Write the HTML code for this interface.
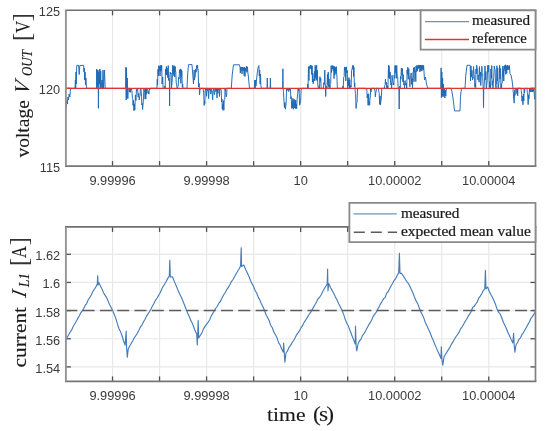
<!DOCTYPE html>
<html><head><meta charset="utf-8"><style>
html,body{margin:0;padding:0;background:#fff;width:550px;height:431px;overflow:hidden}
svg{display:block}
</style></head><body>
<svg width="550" height="431" viewBox="0 0 550 431">
<line x1="112.53" y1="10.3" x2="112.53" y2="166.1" stroke="#e8e8e8" stroke-width="1.2"/>
<line x1="112.53" y1="226.9" x2="112.53" y2="381.4" stroke="#e8e8e8" stroke-width="1.2"/>
<line x1="159.56" y1="10.3" x2="159.56" y2="166.1" stroke="#e8e8e8" stroke-width="1.2"/>
<line x1="159.56" y1="226.9" x2="159.56" y2="381.4" stroke="#e8e8e8" stroke-width="1.2"/>
<line x1="206.59" y1="10.3" x2="206.59" y2="166.1" stroke="#e8e8e8" stroke-width="1.2"/>
<line x1="206.59" y1="226.9" x2="206.59" y2="381.4" stroke="#e8e8e8" stroke-width="1.2"/>
<line x1="253.62" y1="10.3" x2="253.62" y2="166.1" stroke="#e8e8e8" stroke-width="1.2"/>
<line x1="253.62" y1="226.9" x2="253.62" y2="381.4" stroke="#e8e8e8" stroke-width="1.2"/>
<line x1="300.65" y1="10.3" x2="300.65" y2="166.1" stroke="#e8e8e8" stroke-width="1.2"/>
<line x1="300.65" y1="226.9" x2="300.65" y2="381.4" stroke="#e8e8e8" stroke-width="1.2"/>
<line x1="347.68" y1="10.3" x2="347.68" y2="166.1" stroke="#e8e8e8" stroke-width="1.2"/>
<line x1="347.68" y1="226.9" x2="347.68" y2="381.4" stroke="#e8e8e8" stroke-width="1.2"/>
<line x1="394.71" y1="10.3" x2="394.71" y2="166.1" stroke="#e8e8e8" stroke-width="1.2"/>
<line x1="394.71" y1="226.9" x2="394.71" y2="381.4" stroke="#e8e8e8" stroke-width="1.2"/>
<line x1="441.74" y1="10.3" x2="441.74" y2="166.1" stroke="#e8e8e8" stroke-width="1.2"/>
<line x1="441.74" y1="226.9" x2="441.74" y2="381.4" stroke="#e8e8e8" stroke-width="1.2"/>
<line x1="488.77" y1="10.3" x2="488.77" y2="166.1" stroke="#e8e8e8" stroke-width="1.2"/>
<line x1="488.77" y1="226.9" x2="488.77" y2="381.4" stroke="#e8e8e8" stroke-width="1.2"/>
<line x1="65.5" y1="366.90" x2="535.5" y2="366.90" stroke="#e8e8e8" stroke-width="1.2"/>
<line x1="65.5" y1="338.75" x2="535.5" y2="338.75" stroke="#e8e8e8" stroke-width="1.2"/>
<line x1="65.5" y1="310.60" x2="535.5" y2="310.60" stroke="#e8e8e8" stroke-width="1.2"/>
<line x1="65.5" y1="282.45" x2="535.5" y2="282.45" stroke="#e8e8e8" stroke-width="1.2"/>
<line x1="65.5" y1="254.30" x2="535.5" y2="254.30" stroke="#e8e8e8" stroke-width="1.2"/>
<line x1="112.53" y1="166.1" x2="112.53" y2="161.1" stroke="#505050" stroke-width="1.3"/>
<line x1="112.53" y1="10.3" x2="112.53" y2="15.3" stroke="#505050" stroke-width="1.3"/>
<line x1="159.56" y1="166.1" x2="159.56" y2="161.1" stroke="#505050" stroke-width="1.3"/>
<line x1="159.56" y1="10.3" x2="159.56" y2="15.3" stroke="#505050" stroke-width="1.3"/>
<line x1="206.59" y1="166.1" x2="206.59" y2="161.1" stroke="#505050" stroke-width="1.3"/>
<line x1="206.59" y1="10.3" x2="206.59" y2="15.3" stroke="#505050" stroke-width="1.3"/>
<line x1="253.62" y1="166.1" x2="253.62" y2="161.1" stroke="#505050" stroke-width="1.3"/>
<line x1="253.62" y1="10.3" x2="253.62" y2="15.3" stroke="#505050" stroke-width="1.3"/>
<line x1="300.65" y1="166.1" x2="300.65" y2="161.1" stroke="#505050" stroke-width="1.3"/>
<line x1="300.65" y1="10.3" x2="300.65" y2="15.3" stroke="#505050" stroke-width="1.3"/>
<line x1="347.68" y1="166.1" x2="347.68" y2="161.1" stroke="#505050" stroke-width="1.3"/>
<line x1="347.68" y1="10.3" x2="347.68" y2="15.3" stroke="#505050" stroke-width="1.3"/>
<line x1="394.71" y1="166.1" x2="394.71" y2="161.1" stroke="#505050" stroke-width="1.3"/>
<line x1="394.71" y1="10.3" x2="394.71" y2="15.3" stroke="#505050" stroke-width="1.3"/>
<line x1="441.74" y1="166.1" x2="441.74" y2="161.1" stroke="#505050" stroke-width="1.3"/>
<line x1="441.74" y1="10.3" x2="441.74" y2="15.3" stroke="#505050" stroke-width="1.3"/>
<line x1="488.77" y1="166.1" x2="488.77" y2="161.1" stroke="#505050" stroke-width="1.3"/>
<line x1="488.77" y1="10.3" x2="488.77" y2="15.3" stroke="#505050" stroke-width="1.3"/>
<line x1="112.53" y1="381.4" x2="112.53" y2="376.4" stroke="#505050" stroke-width="1.3"/>
<line x1="112.53" y1="226.9" x2="112.53" y2="231.9" stroke="#505050" stroke-width="1.3"/>
<line x1="159.56" y1="381.4" x2="159.56" y2="376.4" stroke="#505050" stroke-width="1.3"/>
<line x1="159.56" y1="226.9" x2="159.56" y2="231.9" stroke="#505050" stroke-width="1.3"/>
<line x1="206.59" y1="381.4" x2="206.59" y2="376.4" stroke="#505050" stroke-width="1.3"/>
<line x1="206.59" y1="226.9" x2="206.59" y2="231.9" stroke="#505050" stroke-width="1.3"/>
<line x1="253.62" y1="381.4" x2="253.62" y2="376.4" stroke="#505050" stroke-width="1.3"/>
<line x1="253.62" y1="226.9" x2="253.62" y2="231.9" stroke="#505050" stroke-width="1.3"/>
<line x1="300.65" y1="381.4" x2="300.65" y2="376.4" stroke="#505050" stroke-width="1.3"/>
<line x1="300.65" y1="226.9" x2="300.65" y2="231.9" stroke="#505050" stroke-width="1.3"/>
<line x1="347.68" y1="381.4" x2="347.68" y2="376.4" stroke="#505050" stroke-width="1.3"/>
<line x1="347.68" y1="226.9" x2="347.68" y2="231.9" stroke="#505050" stroke-width="1.3"/>
<line x1="394.71" y1="381.4" x2="394.71" y2="376.4" stroke="#505050" stroke-width="1.3"/>
<line x1="394.71" y1="226.9" x2="394.71" y2="231.9" stroke="#505050" stroke-width="1.3"/>
<line x1="441.74" y1="381.4" x2="441.74" y2="376.4" stroke="#505050" stroke-width="1.3"/>
<line x1="441.74" y1="226.9" x2="441.74" y2="231.9" stroke="#505050" stroke-width="1.3"/>
<line x1="488.77" y1="381.4" x2="488.77" y2="376.4" stroke="#505050" stroke-width="1.3"/>
<line x1="488.77" y1="226.9" x2="488.77" y2="231.9" stroke="#505050" stroke-width="1.3"/>
<line x1="65.9" y1="88.3" x2="70.9" y2="88.3" stroke="#505050" stroke-width="1.3"/>
<line x1="535.5" y1="88.3" x2="530.5" y2="88.3" stroke="#505050" stroke-width="1.3"/>
<line x1="65.9" y1="366.90" x2="70.9" y2="366.90" stroke="#505050" stroke-width="1.3"/>
<line x1="535.5" y1="366.90" x2="530.5" y2="366.90" stroke="#505050" stroke-width="1.3"/>
<line x1="65.9" y1="338.75" x2="70.9" y2="338.75" stroke="#505050" stroke-width="1.3"/>
<line x1="535.5" y1="338.75" x2="530.5" y2="338.75" stroke="#505050" stroke-width="1.3"/>
<line x1="65.9" y1="310.60" x2="70.9" y2="310.60" stroke="#505050" stroke-width="1.3"/>
<line x1="535.5" y1="310.60" x2="530.5" y2="310.60" stroke="#505050" stroke-width="1.3"/>
<line x1="65.9" y1="282.45" x2="70.9" y2="282.45" stroke="#505050" stroke-width="1.3"/>
<line x1="535.5" y1="282.45" x2="530.5" y2="282.45" stroke="#505050" stroke-width="1.3"/>
<line x1="65.9" y1="254.30" x2="70.9" y2="254.30" stroke="#505050" stroke-width="1.3"/>
<line x1="535.5" y1="254.30" x2="530.5" y2="254.30" stroke="#505050" stroke-width="1.3"/>
<polyline points="65.50,111.00 65.90,104.00 66.40,108.00 66.90,100.00 67.40,104.00 67.90,97.00 68.50,100.00 69.10,94.00 69.80,97.00 70.40,90.00 71.00,88.30 71.00,88.30 75.00,88.30 75.00,88.30 75.40,80.00 75.70,88.00 76.00,72.00 76.30,84.00 76.60,68.00 76.90,65.30 78.60,65.30 79.20,74.50 79.80,65.50 83.60,65.30 84.00,72.00 84.30,68.00 84.70,80.00 85.10,72.00 85.50,85.00 85.90,78.00 86.40,87.00 86.90,88.30 87.00,88.30 96.50,88.30 96.50,88.30 96.70,69.00 97.10,88.00 97.50,70.00 97.90,86.00 98.20,72.00 98.40,108.30 98.70,88.00 99.10,70.00 99.50,84.00 99.90,69.00 100.30,88.00 100.70,71.00 101.10,88.00 102.00,80.00 102.50,88.30 103.00,70.00 103.60,88.30 104.50,70.00 105.20,88.30 105.20,88.30 125.60,88.30 125.60,88.30 125.90,67.00 126.20,100.00 126.50,68.00 126.80,98.00 127.30,78.00 127.80,98.70 128.20,88.50 128.50,88.30 128.71,88.34 129.13,88.30 129.45,92.08 129.87,88.30 130.39,92.36 130.67,88.30 131.16,89.41 131.50,88.30 131.50,88.30 131.71,90.05 132.01,92.17 132.44,98.31 132.72,98.62 133.05,105.43 133.45,100.38 133.88,110.61 134.34,103.80 134.82,110.10 135.41,94.98 135.94,100.50 136.43,89.82 136.76,91.04 137.00,88.30 137.00,88.30 137.21,89.72 137.59,88.30 138.13,97.11 138.69,93.30 139.27,100.00 139.65,96.82 140.12,95.55 140.40,88.30 141.00,88.30 141.00,88.30 141.21,91.94 141.54,96.55 141.82,105.02 142.26,103.53 142.57,109.46 143.07,104.19 143.54,97.13 143.86,88.30 144.00,88.30 144.00,88.30 144.21,90.01 144.76,92.65 145.14,99.21 145.43,88.30 145.75,98.98 146.09,88.69 146.45,94.28 146.74,88.30 147.00,88.30 147.00,88.30 147.21,89.30 147.61,88.30 148.03,93.25 148.34,91.46 148.90,94.18 149.43,88.30 149.74,89.80 150.00,88.30 150.00,88.30 156.30,88.30 156.30,88.30 156.51,87.92 156.96,88.30 157.25,79.17 157.58,85.12 157.92,69.47 158.45,75.75 158.80,65.65 159.08,70.97 159.52,66.28 160.05,75.99 160.40,65.53 160.66,71.50 161.06,65.30 161.33,70.29 161.71,65.43 162.08,84.09 162.66,76.92 163.14,88.30 163.60,88.30 164.50,88.30 164.71,85.97 165.20,88.30 165.46,68.97 165.92,74.27 166.42,66.45 166.70,75.10 167.20,68.13 167.75,77.58 168.24,65.54 168.61,80.46 169.16,78.51 169.40,80.00 169.60,106.00 169.90,75.00 170.00,75.00 170.21,72.17 170.67,73.97 171.12,73.04 171.50,88.30 171.50,88.30 171.71,85.62 172.21,81.11 172.71,65.08 173.15,73.73 173.69,66.30 173.95,75.82 174.36,65.75 174.69,77.08 175.11,66.52 175.45,69.40 175.80,72.60 176.28,83.72 176.59,83.58 177.00,88.30 177.50,88.30 177.71,86.78 178.19,86.52 178.58,77.37 179.13,78.80 179.58,69.87 179.94,72.77 180.36,68.91 180.85,83.35 181.19,69.49 181.50,76.86 181.84,70.83 182.31,87.12 182.66,84.08 183.00,88.30 183.00,88.30 187.00,88.30 187.00,88.30 187.60,75.00 188.50,64.60 192.00,64.60 192.80,75.00 193.50,84.00 194.20,70.00 194.40,80.00 194.61,78.37 195.16,76.93 195.65,69.21 196.09,72.24 196.61,65.48 197.01,68.32 197.54,65.06 197.87,70.20 198.14,69.73 198.61,86.96 199.13,83.36 199.30,85.00 199.50,95.00 200.00,90.40 200.50,88.30 200.50,88.30 203.00,88.30 203.20,88.30 203.41,92.07 203.67,91.17 204.16,105.51 204.47,100.88 204.84,103.64 205.30,88.30 205.60,88.30 205.60,88.30 205.81,90.02 206.09,88.30 206.59,96.32 207.05,88.30 207.50,88.30 207.50,88.30 207.71,90.79 208.23,88.30 208.64,98.65 209.13,88.30 209.50,88.30 209.50,88.30 209.71,90.11 210.26,88.30 210.84,93.96 211.20,88.30 211.50,88.30 211.50,88.30 211.71,91.44 212.11,91.00 212.62,99.78 213.14,91.61 213.50,88.30 213.50,88.30 213.71,90.13 214.23,91.29 214.53,94.56 215.06,88.30 215.63,91.38 216.00,88.30 216.00,88.30 216.21,90.89 216.56,88.30 217.03,97.92 217.45,88.56 217.89,93.36 218.30,88.30 218.30,88.30 218.51,89.86 219.05,88.30 219.48,96.46 219.91,88.30 220.36,89.58 220.50,88.30 220.50,88.30 220.71,89.70 221.15,89.80 221.64,102.02 221.91,99.11 222.30,108.93 222.64,104.17 222.94,110.35 223.34,100.74 223.89,110.12 224.21,99.41 224.77,99.08 225.06,88.30 225.32,90.70 225.50,88.30 225.50,88.30 225.71,92.37 226.17,96.95 226.67,94.93 227.00,88.30 227.00,88.30 231.30,88.30 231.30,88.30 232.20,75.00 233.50,64.80 239.50,64.80 240.00,67.13 240.34,73.12 240.77,67.03 241.23,70.45 241.57,67.03 242.07,73.90 242.53,67.12 243.11,70.98 243.65,67.41 244.21,75.80 244.59,67.20 244.94,76.49 245.53,68.38 245.85,71.02 246.38,66.33 246.95,72.34 247.50,66.75 247.82,72.20 248.30,76.00 249.50,88.30 249.50,88.30 254.50,88.30 254.50,88.30 254.80,80.00 255.20,88.00 255.60,80.00 256.00,86.00 256.60,79.00 257.40,72.00 258.20,67.00 258.90,65.60 259.30,76.00 259.70,70.00 260.10,84.00 260.50,74.00 260.90,86.00 261.50,88.30 261.50,88.30 267.00,88.30 267.00,88.30 267.30,78.00 267.60,88.30 267.60,88.30 270.10,88.30 270.10,88.30 270.40,78.00 270.70,88.30 270.70,88.30 282.60,88.30 282.60,88.30 282.90,68.80 283.20,88.30 283.20,88.30 283.41,91.84 283.99,101.47 284.41,107.59 284.92,102.37 285.40,109.27 285.69,107.03 286.12,103.38 286.55,88.55 286.85,90.70 287.00,88.30 287.00,88.30 287.21,88.48 287.49,88.30 288.07,90.51 288.43,88.30 288.85,91.64 289.25,88.30 289.51,89.52 289.82,88.30 290.00,88.30 290.00,88.30 290.21,89.80 290.52,88.94 290.77,98.66 291.26,96.66 291.73,108.39 292.11,101.40 292.54,107.78 292.88,98.29 293.38,109.22 293.89,99.25 294.28,107.93 294.76,99.73 295.27,108.28 295.66,100.17 295.94,108.85 296.19,103.84 296.66,108.55 297.12,99.49 297.69,93.35 298.00,88.30 298.50,88.30 298.71,91.07 299.09,88.30 299.56,105.24 300.14,103.47 300.60,101.75 301.10,90.35 301.50,88.30 301.50,88.30 307.50,88.30 307.50,88.30 307.71,83.93 308.05,88.30 308.48,66.78 308.91,80.57 309.35,66.28 309.87,68.99 310.33,65.04 310.83,68.59 311.40,65.55 311.71,74.44 312.16,65.86 312.43,82.03 312.83,73.21 313.20,83.74 313.50,81.00 313.50,81.00 313.71,79.05 314.20,80.64 314.46,71.17 314.76,80.85 315.15,65.27 315.70,77.73 315.97,67.16 316.25,79.77 316.64,65.15 317.06,80.65 317.39,70.23 317.88,86.20 318.50,88.30 319.00,88.30 319.21,85.80 319.50,88.30 319.91,76.68 320.34,81.22 320.74,78.37 321.21,88.30 321.50,88.30 323.50,88.30 323.71,82.70 324.30,84.38 324.80,70.09 325.13,82.52 325.50,88.30 325.70,96.50 326.00,88.30 326.30,88.30 326.51,86.11 326.99,88.30 327.44,74.47 327.91,84.79 328.22,72.02 328.78,87.41 329.05,78.84 329.32,86.27 329.72,85.02 330.00,88.30 330.00,88.30 330.21,84.03 330.69,83.48 331.15,65.72 331.48,72.47 331.98,65.73 332.51,68.97 332.80,65.46 333.31,70.77 333.71,66.17 334.05,78.53 334.42,66.54 334.79,75.13 335.29,67.23 335.85,73.56 336.23,66.51 336.50,71.01 336.95,77.46 337.36,88.30 337.50,88.30 337.50,88.30 342.70,88.30 342.70,88.30 342.91,85.97 343.19,88.30 343.69,77.22 344.17,76.51 344.47,66.97 344.85,70.53 345.34,67.13 345.78,80.94 346.35,66.83 346.87,72.96 347.23,70.45 347.61,88.30 348.00,80.00 348.00,80.00 348.21,79.85 348.59,86.00 348.91,77.64 349.35,88.30 349.79,79.70 350.10,88.30 350.50,88.30 350.50,88.30 350.71,85.52 351.14,86.97 351.58,70.23 352.10,69.13 352.54,65.57 353.05,69.39 353.33,65.46 353.61,76.54 353.91,67.22 354.42,86.59 354.75,82.96 355.00,88.30 355.00,88.30 355.21,91.53 355.58,93.51 356.05,108.48 356.55,103.79 357.11,101.62 357.50,88.30 357.70,88.30 357.70,88.30 366.00,88.30 366.00,88.30 366.21,89.31 366.78,88.30 367.21,97.98 367.70,94.17 368.10,105.16 368.60,93.69 368.98,105.36 369.28,101.56 369.68,104.98 369.95,98.06 370.24,98.06 370.71,88.30 371.02,91.95 371.50,88.30 374.50,88.30 374.71,90.53 375.00,90.65 375.32,96.87 375.78,92.76 376.09,91.98 376.50,88.30 378.50,88.30 378.71,91.22 379.24,93.25 379.58,104.41 380.13,95.86 380.49,104.84 380.91,100.77 381.18,100.22 381.75,88.30 382.00,88.30 382.00,88.30 384.50,88.30 384.50,88.30 384.71,85.64 385.18,84.38 385.44,79.21 385.85,84.33 386.37,82.26 386.67,88.30 386.80,88.30 387.30,88.30 387.51,85.54 387.94,87.62 388.52,65.44 388.82,77.61 389.08,65.71 389.60,78.60 390.13,71.95 390.63,83.36 391.00,85.00 391.00,85.00 391.21,82.74 391.66,88.30 392.01,75.23 392.57,80.15 393.10,83.46 393.30,85.00 393.30,85.00 393.51,83.16 393.87,84.55 394.14,75.26 394.50,78.23 394.99,65.47 395.28,72.73 395.69,65.66 396.26,78.39 396.73,65.47 397.23,76.14 397.67,76.97 398.07,86.35 398.40,88.30 398.90,88.30 399.20,109.00 399.50,88.30 399.60,88.30 399.81,86.09 400.19,88.30 400.54,76.40 400.91,79.18 401.38,68.02 401.88,75.28 402.45,68.60 402.89,81.78 403.25,74.67 403.55,82.93 404.00,85.00 404.00,85.00 404.21,83.85 404.60,88.30 405.05,80.54 405.35,84.99 405.74,83.50 406.00,85.00 406.00,85.00 406.21,83.45 406.72,88.30 407.10,70.15 407.46,74.36 407.72,67.13 408.30,79.27 408.78,68.59 409.23,75.58 409.60,76.69 409.89,86.76 410.00,80.00 410.00,80.00 410.21,78.69 410.67,77.43 411.18,72.93 411.55,84.33 411.85,78.90 412.00,80.00 412.00,80.00 412.21,78.36 412.53,88.30 412.99,72.18 413.31,71.55 413.64,67.83 414.01,81.68 414.38,67.24 414.79,71.93 415.37,70.84 415.80,81.52 416.00,72.00 416.00,66.23 416.37,71.60 416.99,65.16 417.31,71.23 417.68,65.84 418.27,68.66 418.75,64.91 419.22,67.94 419.50,65.16 419.83,71.94 420.44,65.07 420.95,70.85 421.36,65.32 421.84,71.14 422.12,64.95 422.44,69.30 422.92,65.67 423.25,69.89 423.61,65.42 424.50,80.00 425.50,77.00 426.50,84.00 427.80,88.30 427.80,88.30 440.80,88.30 440.80,88.30 441.10,67.90 441.40,97.70 441.80,72.00 442.20,96.00 442.60,78.00 443.00,97.00 443.40,84.00 443.80,96.00 444.30,89.00 444.80,98.00 445.30,90.00 445.80,96.00 446.30,88.30 446.30,88.30 451.00,88.30 451.00,88.30 452.00,92.00 453.00,98.00 454.50,110.90 460.00,110.90 460.50,96.40 461.50,88.30 461.50,88.30 465.00,88.30 465.00,88.30 465.80,75.00 467.00,65.30 470.00,65.30 470.00,66.00 470.21,66.10 470.51,80.89 470.96,65.91 471.43,76.96 471.93,70.38 472.50,79.80 472.50,79.80 472.71,77.18 473.10,78.30 473.54,66.50 474.10,74.84 474.53,76.59 474.89,87.32 475.00,86.40 475.00,86.40 475.21,83.54 475.66,87.60 476.02,68.92 476.31,73.81 476.73,65.19 477.12,68.68 477.60,68.87 477.96,79.83 478.29,75.04 478.50,77.00 478.50,77.00 478.71,75.03 479.10,82.19 479.43,66.56 479.93,75.37 480.49,72.12 480.78,85.50 481.00,79.00 481.00,79.00 481.21,76.11 481.56,75.99 481.84,66.31 482.22,72.63 482.67,73.27 482.94,83.75 483.20,88.30 483.30,88.30 483.50,107.60 483.80,88.30 484.00,88.30 484.21,84.97 484.62,77.45 484.97,66.00 485.53,79.66 485.85,71.48 486.26,87.21 486.50,88.30 486.50,88.30 486.71,85.02 487.17,80.96 487.72,65.46 488.22,72.07 488.77,65.13 489.32,87.33 489.61,81.53 490.00,88.30 490.00,88.30 490.21,85.64 490.57,87.99 490.88,68.98 491.36,78.28 491.74,65.60 492.21,85.27 492.66,80.86 493.00,88.30 493.00,88.30 493.21,84.39 493.68,77.45 494.26,66.03 494.69,68.59 495.14,69.69 495.49,83.26 496.00,88.30 496.00,88.30 496.21,82.73 496.56,83.63 496.87,65.80 497.42,80.84 497.69,68.11 498.07,88.30 498.50,88.30 498.50,88.30 498.71,84.00 499.18,80.91 499.65,65.22 500.07,78.99 500.56,68.41 500.98,88.30 501.29,83.81 501.50,88.30 501.50,88.30 501.71,83.48 502.22,83.13 502.74,66.09 503.07,76.54 503.49,69.51 503.75,81.04 504.00,72.00 504.00,66.42 504.33,68.72 504.61,65.50 505.06,70.82 505.49,64.75 505.78,74.31 506.26,66.38 506.73,73.46 507.08,65.12 507.37,69.93 507.86,65.29 508.32,69.56 508.80,66.17 509.13,69.49 509.46,65.58 509.98,73.75 511.00,75.00 512.00,80.00 513.00,88.30 513.00,88.30 513.21,91.56 513.79,99.66 514.20,103.13 514.71,90.21 515.01,95.39 515.28,88.30 515.50,88.30 516.00,88.30 516.21,89.98 516.56,88.30 516.84,93.72 517.35,88.30 517.68,95.84 518.01,88.30 518.35,87.78 518.50,88.30 518.50,88.30 521.00,88.30 521.00,88.30 521.21,90.42 521.67,94.24 522.05,101.29 522.42,96.05 522.96,104.75 523.41,94.14 523.82,100.99 524.20,88.30 524.53,92.87 524.90,88.30 525.00,88.30 525.00,88.30 527.00,88.30 527.00,88.30 527.21,92.23 527.57,93.01 528.15,104.61 528.63,94.84 528.95,98.87 529.50,88.30 529.50,88.76 529.90,91.64 530.18,88.82 530.59,91.96 531.12,89.21 531.48,91.68 531.81,89.37 532.35,91.86 532.95,88.87 533.23,91.66 534.00,88.30 534.21,92.96 534.64,99.15 535.02,99.15 535.35,89.65 535.50,88.30" fill="none" stroke="#1d68b4" stroke-width="0.95" stroke-linejoin="round"/>
<line x1="65.5" y1="88.3" x2="535.5" y2="88.3" stroke="#dc3535" stroke-width="1.15"/>
<polyline points="65.50,340.50 67.01,337.72 68.53,335.05 70.04,332.25 71.56,330.18 73.07,326.81 74.59,324.29 76.10,321.57 77.61,318.64 79.13,316.18 80.64,312.94 82.16,311.09 83.67,308.46 85.19,305.39 86.70,303.53 88.21,299.77 89.73,297.70 91.24,294.98 92.76,291.83 94.27,289.27 95.79,287.09 97.30,284.00 97.70,275.70 98.10,285.00 98.80,282.50 100.34,285.65 101.89,288.87 103.43,292.49 104.98,295.09 106.52,297.36 108.07,300.90 109.61,304.73 111.16,307.42 112.70,310.60 114.25,314.43 115.80,318.34 117.35,323.68 118.90,328.52 120.45,331.60 122.00,335.50 123.55,341.01 125.10,345.10 126.20,331.00 126.60,348.00 127.30,357.30 128.20,349.00 129.72,346.05 131.24,343.46 132.77,340.74 134.29,337.78 135.81,335.68 137.33,333.19 138.86,330.24 140.38,327.12 141.90,325.13 143.42,321.91 144.94,319.52 146.47,316.14 147.99,314.15 149.51,311.48 151.03,309.02 152.56,305.75 154.08,303.24 155.60,300.08 157.12,298.02 158.64,295.27 160.17,292.71 161.69,289.35 163.21,286.27 164.73,284.08 166.26,281.31 167.78,278.37 169.30,276.00 169.80,260.20 170.30,277.00 172.50,276.80 174.01,280.65 175.53,284.37 177.04,287.70 178.55,291.60 180.06,294.85 181.57,297.82 183.09,301.56 184.60,305.24 186.11,309.28 187.62,312.96 189.14,316.19 190.65,320.15 192.16,322.91 193.67,326.80 195.19,331.09 196.70,334.00 197.30,345.00 198.20,320.40 198.70,338.00 200.25,335.53 201.80,333.13 203.36,329.16 204.91,326.59 206.46,324.28 208.01,322.45 209.56,320.06 211.11,316.39 212.67,313.56 214.22,310.88 215.77,308.27 217.32,306.25 218.87,303.19 220.43,301.50 221.98,298.32 223.53,295.03 225.08,292.77 226.63,289.93 228.19,287.69 229.74,285.07 231.29,281.85 232.84,279.73 234.39,276.92 235.94,273.96 237.50,271.45 239.05,268.97 240.60,266.00 241.20,247.70 241.60,266.50 243.80,265.00 245.90,270.00 247.45,273.28 249.01,276.54 250.56,280.81 252.12,283.67 253.67,286.82 255.22,290.71 256.78,293.26 258.33,297.36 259.89,300.15 261.44,303.98 263.00,306.80 264.55,310.68 266.10,314.81 267.66,317.75 269.21,320.71 270.77,325.44 272.32,327.81 273.88,332.16 275.43,334.69 276.98,337.69 278.54,342.57 280.09,344.98 281.65,348.92 283.20,352.00 283.60,343.00 284.90,362.10 286.00,353.00 287.53,350.97 289.05,347.31 290.58,345.37 292.10,342.53 293.63,340.49 295.16,337.66 296.68,334.56 298.21,332.58 299.73,330.34 301.26,327.32 302.79,325.14 304.31,322.10 305.84,319.76 307.36,317.38 308.89,314.73 310.41,312.67 311.94,309.98 313.47,307.37 314.99,304.77 316.52,301.96 318.04,298.82 319.57,297.25 321.10,294.99 322.62,291.77 324.15,289.00 325.67,286.54 327.20,284.00 327.60,269.10 328.00,290.80 328.80,283.50 330.45,287.42 332.10,290.40 333.75,293.23 335.40,296.98 337.05,300.10 338.70,303.74 340.35,306.82 342.00,310.60 343.65,314.39 345.30,319.61 346.95,323.59 348.60,326.59 350.25,331.05 351.90,335.46 353.55,339.66 355.20,344.00 355.50,326.00 356.10,346.00 356.80,350.80 358.00,344.00 359.51,340.75 361.01,339.10 362.52,335.35 364.03,333.72 365.54,331.07 367.04,327.95 368.55,325.18 370.06,322.84 371.57,320.24 373.07,316.60 374.58,314.32 376.09,312.46 377.60,309.53 379.10,306.75 380.61,303.84 382.12,301.32 383.63,298.65 385.13,297.57 386.64,293.14 388.15,291.72 389.66,288.60 391.16,285.84 392.67,283.18 394.18,280.28 395.69,278.51 397.19,275.38 398.70,272.50 399.40,253.30 400.00,273.50 401.50,273.20 403.20,275.85 404.90,278.47 406.60,281.27 408.30,283.34 410.00,286.50 411.55,289.96 413.10,293.43 414.65,297.58 416.20,301.17 417.75,303.68 419.30,308.01 420.85,312.14 422.40,314.73 423.95,318.38 425.50,322.94 427.05,326.05 428.60,329.51 430.15,332.77 431.70,336.98 433.25,340.26 434.80,344.20 436.35,347.89 437.90,351.61 439.45,354.76 441.00,358.50 441.30,346.80 442.00,360.00 442.80,365.20 444.00,357.00 445.51,354.24 447.02,351.94 448.53,349.35 450.04,346.93 451.56,344.09 453.07,341.68 454.58,338.99 456.09,336.45 457.60,334.24 459.11,332.14 460.62,328.86 462.13,326.82 463.64,324.17 465.16,321.53 466.67,319.25 468.18,316.17 469.69,314.12 471.20,311.47 472.71,307.26 474.22,306.42 475.73,303.99 477.24,302.05 478.76,298.18 480.27,296.16 481.78,293.73 483.29,290.61 484.80,288.50 485.40,270.40 486.00,289.00 487.60,287.00 489.18,291.03 490.75,294.20 492.32,297.15 493.90,300.48 495.48,304.32 497.05,309.05 498.62,312.45 500.20,313.91 501.77,317.70 503.35,322.30 504.92,325.46 506.50,328.72 508.07,332.77 509.65,336.05 511.22,339.63 512.80,343.00 513.60,333.30 514.20,345.00 514.90,352.20 516.00,345.00 517.50,342.54 519.00,339.35 520.50,337.83 522.00,334.46 523.50,332.58 525.00,329.80 526.50,326.93 528.00,324.39 529.50,321.72 531.00,318.35 532.50,316.43 534.00,314.18 535.50,311.40" fill="none" stroke="#467db8" stroke-width="1.15" stroke-linejoin="round"/>
<line x1="65.5" y1="310.60" x2="535.5" y2="310.60" stroke="#5c5c5c" stroke-width="1.5" stroke-dasharray="12 5.3" stroke-dashoffset="0.2"/>
<line x1="65.0" y1="10.3" x2="536.4" y2="10.3" stroke="#707070" stroke-width="1.6"/>
<line x1="65.0" y1="166.1" x2="536.4" y2="166.1" stroke="#757575" stroke-width="1.6"/>
<line x1="65.9" y1="10.3" x2="65.9" y2="166.1" stroke="#949494" stroke-width="1.9"/>
<line x1="535.5" y1="10.3" x2="535.5" y2="166.1" stroke="#808080" stroke-width="1.7"/>
<line x1="65.0" y1="226.9" x2="536.4" y2="226.9" stroke="#707070" stroke-width="1.6"/>
<line x1="65.0" y1="381.4" x2="536.4" y2="381.4" stroke="#757575" stroke-width="1.6"/>
<line x1="65.9" y1="226.9" x2="65.9" y2="381.4" stroke="#949494" stroke-width="1.9"/>
<line x1="535.5" y1="226.9" x2="535.5" y2="381.4" stroke="#808080" stroke-width="1.7"/>
<text x="112.53" y="184.6" font-size="12.8" font-family="'Liberation Sans', Arial, sans-serif" text-anchor="middle" fill="#3a3a3a">9.99996</text>
<text x="112.53" y="399.8" font-size="12.8" font-family="'Liberation Sans', Arial, sans-serif" text-anchor="middle" fill="#3a3a3a">9.99996</text>
<text x="206.59" y="184.6" font-size="12.8" font-family="'Liberation Sans', Arial, sans-serif" text-anchor="middle" fill="#3a3a3a">9.99998</text>
<text x="206.59" y="399.8" font-size="12.8" font-family="'Liberation Sans', Arial, sans-serif" text-anchor="middle" fill="#3a3a3a">9.99998</text>
<text x="300.65" y="184.6" font-size="12.8" font-family="'Liberation Sans', Arial, sans-serif" text-anchor="middle" fill="#3a3a3a">10</text>
<text x="300.65" y="399.8" font-size="12.8" font-family="'Liberation Sans', Arial, sans-serif" text-anchor="middle" fill="#3a3a3a">10</text>
<text x="394.71" y="184.6" font-size="12.8" font-family="'Liberation Sans', Arial, sans-serif" text-anchor="middle" fill="#3a3a3a">10.00002</text>
<text x="394.71" y="399.8" font-size="12.8" font-family="'Liberation Sans', Arial, sans-serif" text-anchor="middle" fill="#3a3a3a">10.00002</text>
<text x="488.77" y="184.6" font-size="12.8" font-family="'Liberation Sans', Arial, sans-serif" text-anchor="middle" fill="#3a3a3a">10.00004</text>
<text x="488.77" y="399.8" font-size="12.8" font-family="'Liberation Sans', Arial, sans-serif" text-anchor="middle" fill="#3a3a3a">10.00004</text>
<text x="60.2" y="16.30" font-size="12.8" font-family="'Liberation Sans', Arial, sans-serif" text-anchor="end" fill="#3a3a3a">125</text>
<text x="60.2" y="94.30" font-size="12.8" font-family="'Liberation Sans', Arial, sans-serif" text-anchor="end" fill="#3a3a3a">120</text>
<text x="60.2" y="172.10" font-size="12.8" font-family="'Liberation Sans', Arial, sans-serif" text-anchor="end" fill="#3a3a3a">115</text>
<text x="60.2" y="372.90" font-size="12.8" font-family="'Liberation Sans', Arial, sans-serif" text-anchor="end" fill="#3a3a3a">1.54</text>
<text x="60.2" y="344.75" font-size="12.8" font-family="'Liberation Sans', Arial, sans-serif" text-anchor="end" fill="#3a3a3a">1.56</text>
<text x="60.2" y="316.60" font-size="12.8" font-family="'Liberation Sans', Arial, sans-serif" text-anchor="end" fill="#3a3a3a">1.58</text>
<text x="60.2" y="288.45" font-size="12.8" font-family="'Liberation Sans', Arial, sans-serif" text-anchor="end" fill="#3a3a3a">1.6</text>
<text x="60.2" y="260.30" font-size="12.8" font-family="'Liberation Sans', Arial, sans-serif" text-anchor="end" fill="#3a3a3a">1.62</text>
<path d="M420.6,10.3H535.5V49.6H420.6Z" fill="#fff" stroke="#8a8a8a" stroke-width="1.8"/>
<line x1="424.9" y1="21.6" x2="469" y2="21.6" stroke="#6895bd" stroke-width="1.4"/>
<line x1="424.9" y1="39.5" x2="469" y2="39.5" stroke="#dc3535" stroke-width="1.3"/>
<path d="M349.4,202.8H535.5V242.1H349.4Z" fill="#fff" stroke="#8a8a8a" stroke-width="1.8"/>
<line x1="353.5" y1="213.9" x2="396.8" y2="213.9" stroke="#6895bd" stroke-width="1.4"/>
<line x1="353.8" y1="232.3" x2="397.1" y2="232.3" stroke="#5c5c5c" stroke-width="1.5" stroke-dasharray="11 6"/>
<text transform="translate(28.7,157.50) rotate(-90) scale(1.0250,1)" font-size="19" font-family="'Liberation Serif', 'Times New Roman', serif" fill="#1a1a1a" stroke="#1a1a1a" stroke-width="0.12">voltage</text>
<text transform="translate(28.6,95.06) rotate(-90) scale(0.9495,1) skewX(-14)" font-size="21" font-family="'Liberation Serif', 'Times New Roman', serif" font-style="italic" fill="#1a1a1a" stroke="#1a1a1a" stroke-width="0.12">V</text>
<text transform="translate(32.2,76.00) rotate(-90) scale(0.8650,1)" font-size="15" font-family="'Liberation Serif', 'Times New Roman', serif" font-style="italic" fill="#1a1a1a" stroke="#1a1a1a" stroke-width="0.12">OUT</text>
<text transform="translate(30.1,41.06) rotate(-90) scale(1.0000,1)" font-size="24.4" font-family="'Liberation Serif', 'Times New Roman', serif" fill="#333" stroke="#333" stroke-width="0.0">[</text>
<text transform="translate(29.5,33.06) rotate(-90) scale(0.7693,1)" font-size="22" font-family="'Liberation Serif', 'Times New Roman', serif" fill="#1a1a1a" stroke="#1a1a1a" stroke-width="0.12">V</text>
<text transform="translate(30.1,21.15) rotate(-90) scale(1.0000,1)" font-size="24.4" font-family="'Liberation Serif', 'Times New Roman', serif" fill="#333" stroke="#333" stroke-width="0.0">]</text>
<text transform="translate(25.8,367.50) rotate(-90) scale(1.1261,1)" font-size="19" font-family="'Liberation Serif', 'Times New Roman', serif" fill="#1a1a1a" stroke="#1a1a1a" stroke-width="0.12">current</text>
<text transform="translate(25.8,298.06) rotate(-90) scale(0.8695,1) skewX(-14)" font-size="21" font-family="'Liberation Serif', 'Times New Roman', serif" font-style="italic" fill="#1a1a1a" stroke="#1a1a1a" stroke-width="0.12">I</text>
<text transform="translate(28.7,287.10) rotate(-90) scale(0.8774,1)" font-size="15" font-family="'Liberation Serif', 'Times New Roman', serif" font-style="italic" fill="#1a1a1a" stroke="#1a1a1a" stroke-width="0.12">L1</text>
<text transform="translate(26.9,265.94) rotate(-90) scale(1.0000,1)" font-size="24.4" font-family="'Liberation Serif', 'Times New Roman', serif" fill="#333" stroke="#333" stroke-width="0.0">[</text>
<text transform="translate(26.0,258.06) rotate(-90) scale(0.7459,1)" font-size="22" font-family="'Liberation Serif', 'Times New Roman', serif" fill="#1a1a1a" stroke="#1a1a1a" stroke-width="0.12">A</text>
<text transform="translate(26.9,245.34) rotate(-90) scale(1.0000,1)" font-size="24.4" font-family="'Liberation Serif', 'Times New Roman', serif" fill="#333" stroke="#333" stroke-width="0.0">]</text>
<text transform="translate(267.00,421.0) scale(1.1414,1)" font-size="19" font-family="'Liberation Serif', 'Times New Roman', serif" fill="#1a1a1a" stroke="#1a1a1a" stroke-width="0.12">time</text>
<text transform="translate(313.10,421.2) scale(1.0647,1)" font-size="22" font-family="'Liberation Serif', 'Times New Roman', serif" letter-spacing="-1.8" fill="#1a1a1a" stroke="#1a1a1a" stroke-width="0.12">(s)</text>
<text transform="translate(472.02,24.9) scale(1.1135,1)" font-size="13.6" font-family="'Liberation Serif', 'Times New Roman', serif" fill="#1a1a1a" stroke="#1a1a1a" stroke-width="0.22">measured</text>
<text transform="translate(472.02,42.5) scale(1.0825,1)" font-size="13.6" font-family="'Liberation Serif', 'Times New Roman', serif" fill="#1a1a1a" stroke="#1a1a1a" stroke-width="0.22">reference</text>
<text transform="translate(400.98,217.5) scale(1.1193,1)" font-size="13.6" font-family="'Liberation Serif', 'Times New Roman', serif" fill="#1a1a1a" stroke="#1a1a1a" stroke-width="0.22">measured</text>
<text transform="translate(400.98,235.5) scale(1.1404,1)" font-size="13.6" font-family="'Liberation Serif', 'Times New Roman', serif" fill="#1a1a1a" stroke="#1a1a1a" stroke-width="0.22">expected mean value</text>
</svg>
</body></html>
